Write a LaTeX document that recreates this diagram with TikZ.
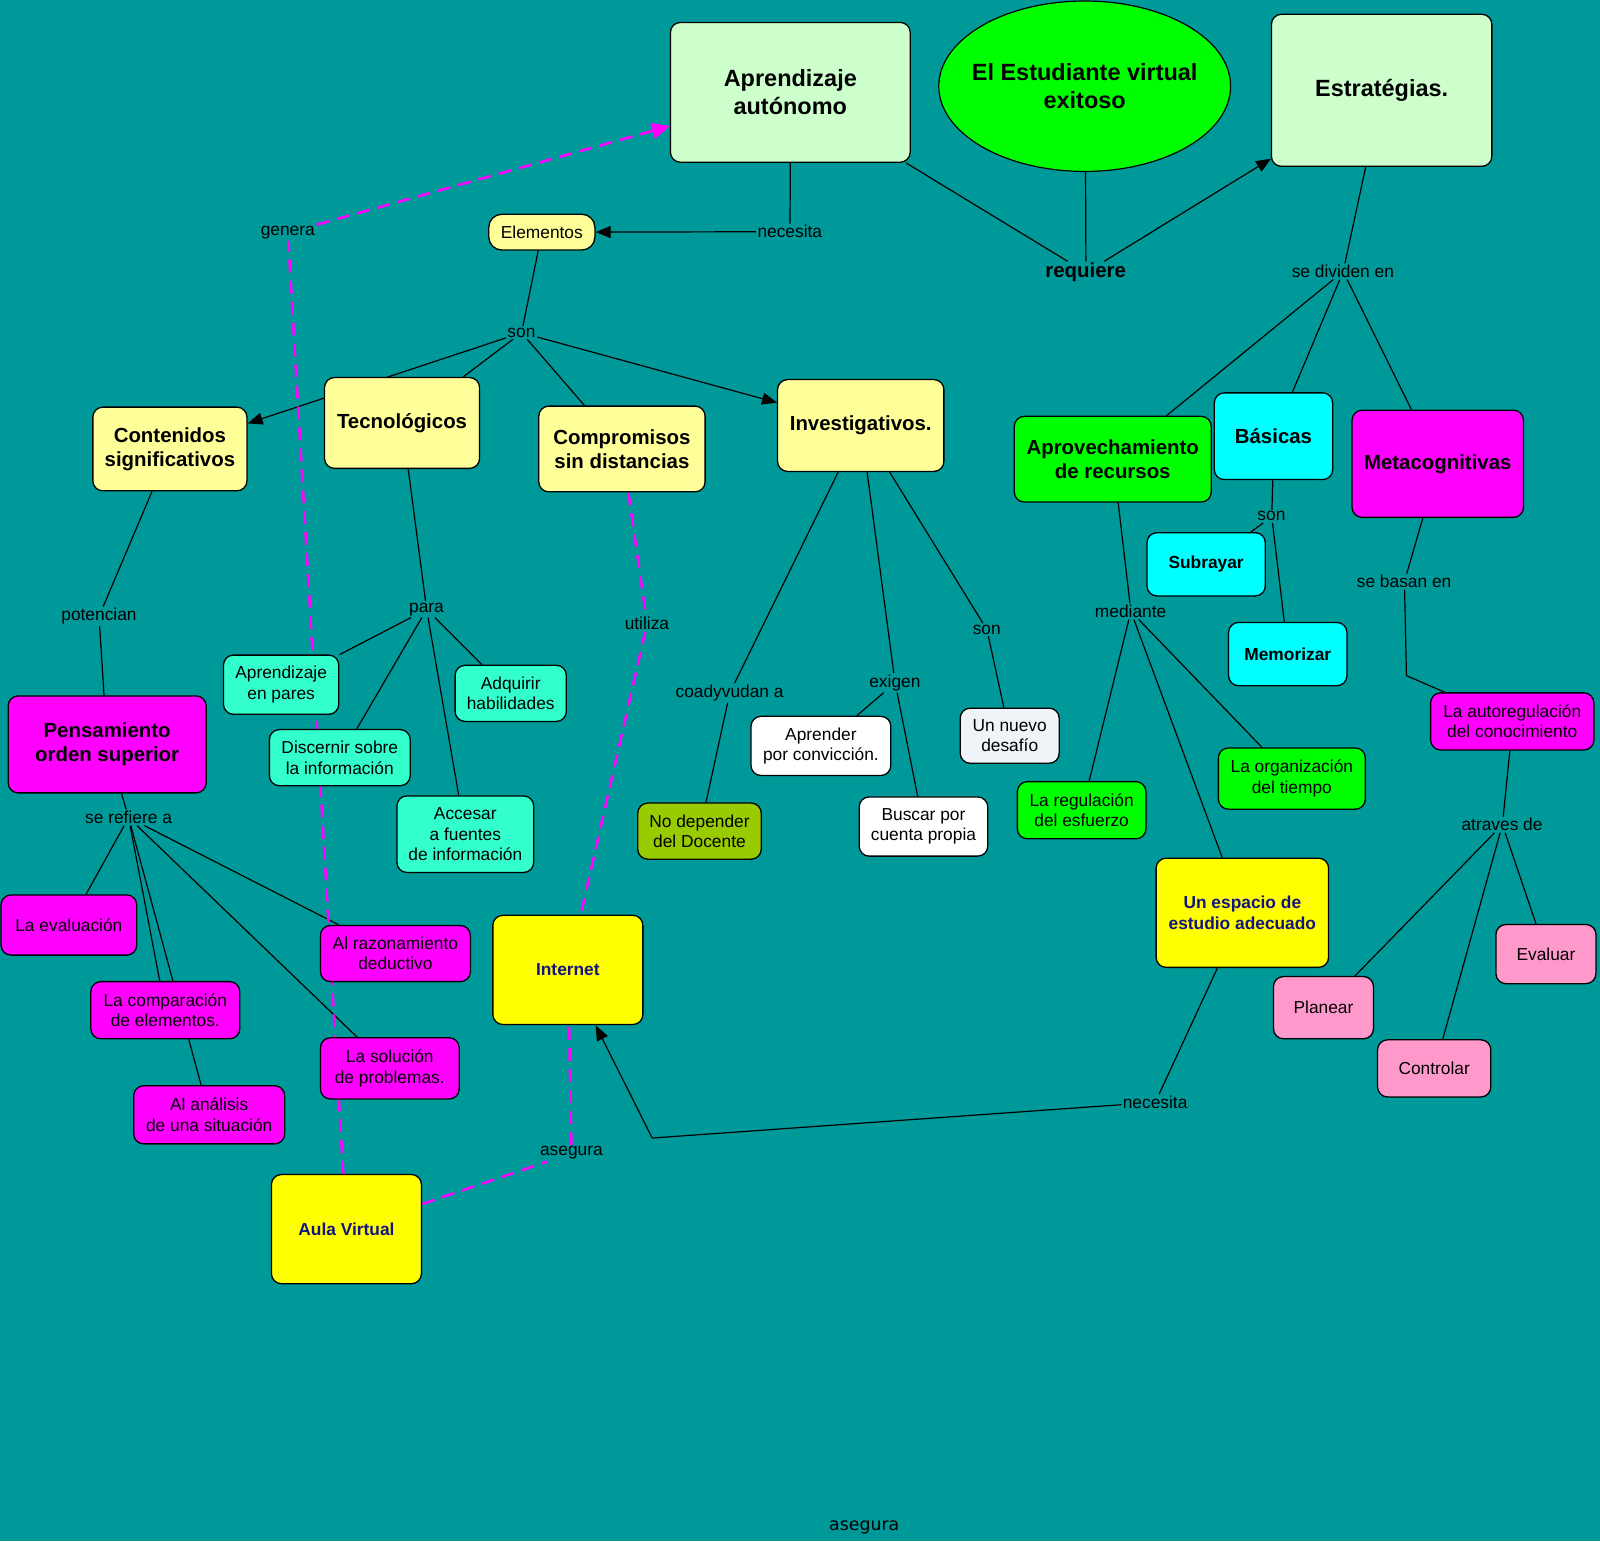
\documentclass[tikz,border=0pt]{standalone}
\usepackage{fontspec}
\setmainfont{Liberation Sans}
\newfontfamily\dejavu{DejaVu Sans}
\usetikzlibrary{shapes.geometric,arrows.meta,calc}
\pgfdeclarelayer{bg}
\pgfdeclarelayer{edges}
\pgfsetlayers{bg,edges,main}
\definecolor{bgteal}{HTML}{009999}
\definecolor{paleg}{HTML}{CCFFCC}
\definecolor{brightg}{HTML}{00FF00}
\definecolor{paley}{HTML}{FFFF99}
\definecolor{cyanc}{HTML}{00FFFF}
\definecolor{magc}{HTML}{FF00FF}
\definecolor{aquac}{HTML}{33FFCC}
\definecolor{yellc}{HTML}{FFFF00}
\definecolor{olivec}{HTML}{99CC00}
\definecolor{palegray}{HTML}{EEF4F8}
\definecolor{pinkc}{HTML}{FF99CC}
\definecolor{navyc}{HTML}{14147F}
\tikzset{
 bx/.style={draw=black, line width=1.3pt, rounded corners=10pt, align=center, inner sep=1pt, text=black},
 tt/.style={font=\fontsize{23}{27}\selectfont\bfseries},
 bb/.style={font=\fontsize{20}{23.5}\selectfont\bfseries},
 sb/.style={font=\fontsize{17}{20}\selectfont\bfseries},
 rg/.style={font=\fontsize{17}{20}\selectfont},
 lbl/.style={font=\fontsize{17}{20}\selectfont, inner sep=1.5pt, text=black},
 ln/.style={draw=black, line width=1.2pt},
 arr/.style={ln, -{Triangle[length=15pt,width=12pt]}},
 dsh/.style={draw=magc, line width=2.6pt, dash pattern=on 13pt off 8pt},
 dsharr/.style={dsh, -{Triangle[length=18pt,width=16pt]}},
}
\begin{document}
\begin{tikzpicture}[x=1pt,y=-1pt,scale=1.0204,every node/.append style={transform shape}]
\begin{pgfonlayer}{bg}
\fill[bgteal] (0,0) rectangle (1568,1510.2);
\end{pgfonlayer}
\path[use as bounding box] (0,0) rectangle (1568,1510.2);

% top nodes
\node[bx, fill=paleg, minimum width=235pt, minimum height=137pt, tt] (aprend) at (774.5,90.5) {Aprendizaje\\autónomo};
\node[draw=black, line width=1.2pt, ellipse, fill=brightg, minimum width=286pt, minimum height=167pt, inner sep=0pt] (est) at (1063,84.5) {};
\node[align=center, tt, inner sep=0pt] (esttxt) at (1063,84.5) {El Estudiante virtual\\exitoso};
\node[bx, fill=paleg, minimum width=216pt, minimum height=149pt, tt] (estrat) at (1354,88.5) {Estratégias.};
\node[lbl, font=\fontsize{20}{23}\selectfont\bfseries] (requiere) at (1064,267) {requiere};
\node[lbl] (necesita) at (774,227) {necesita};
\node[lbl] (genera) at (282,228) {genera};
\node[bx, fill=paley, rounded corners=13pt, minimum width=104pt, minimum height=35pt, rg] (elem) at (531,227.5) {Elementos};
\node[lbl] (son) at (511,326) {son};
\node[lbl] (sediv) at (1316,266) {se dividen en};

% second row
\node[bx, fill=paley, minimum width=151pt, minimum height=82pt, bb] (cont) at (166.5,440) {Contenidos\\significativos};
\node[bx, fill=paley, minimum width=152pt, minimum height=89pt, bb] (tec) at (394,414.5) {Tecnológicos};
\node[bx, fill=paley, minimum width=163pt, minimum height=84pt, bb] (comp) at (609.5,440) {Compromisos\\sin distancias};
\node[bx, fill=paley, minimum width=163pt, minimum height=90pt, bb] (inv) at (843.5,417) {Investigativos.};
\node[bx, fill=brightg, minimum width=193pt, minimum height=84pt, bb] (aprov) at (1090.5,450) {Aprovechamiento\\de recursos};
\node[bx, fill=cyanc, minimum width=116pt, minimum height=85pt, bb] (bas) at (1248,427.5) {Básicas};
\node[bx, fill=magc, minimum width=168pt, minimum height=105pt, bb] (meta) at (1409,454.5) {Metacognitivas};

% basicas
\node[lbl] (sonb) at (1246,506) {son};
\node[bx, fill=cyanc, minimum width=116pt, minimum height=62pt, sb] (subr) at (1182,553) {Subrayar};
\node[bx, fill=cyanc, minimum width=116pt, minimum height=62pt, sb] (memo) at (1262,641) {Memorizar};

% metacognitivas
\node[lbl] (sebasan) at (1376,570) {se basan en};
\coordinate (bend1) at (1378,662);
\node[bx, fill=magc, minimum width=160pt, minimum height=56pt, rg] (autor) at (1482,707) {La autoregulación\\del conocimiento};
\node[lbl] (atraves) at (1472,808) {atraves de};
\node[bx, fill=pinkc, minimum width=98pt, minimum height=58pt, rg] (evalr) at (1515,935) {Evaluar};
\node[bx, fill=pinkc, minimum width=98pt, minimum height=61pt, rg] (plan) at (1297,987.5) {Planear};
\node[bx, fill=pinkc, minimum width=111pt, minimum height=56pt, rg] (ctrl) at (1405.5,1047) {Controlar};

% aprovechamiento
\node[lbl] (mediante) at (1108,599) {mediante};
\node[bx, fill=brightg, minimum width=126pt, minimum height=56pt, rg] (regul) at (1060,794) {La regulación\\del esfuerzo};
\node[bx, fill=brightg, minimum width=144pt, minimum height=60pt, rg] (organ) at (1266,763) {La organización\\del tiempo};
\node[bx, fill=yellc, minimum width=169pt, minimum height=107pt, sb, text=navyc] (espacio) at (1217.5,894.5) {Un espacio de\\estudio adecuado};
\node[lbl] (necesita2) at (1132,1080) {necesita};
\coordinate (bend2) at (639,1115);

% internet / aula
\node[bx, fill=yellc, minimum width=147pt, minimum height=107pt, sb, text=navyc] (internet) at (556.5,950.5) {Internet};
\node[bx, fill=yellc, minimum width=147pt, minimum height=107pt, sb, text=navyc] (aula) at (339.5,1204.5) {Aula Virtual};
\node[lbl] (asegura) at (560,1130) {asegura};
\node[lbl] (utiliza) at (634,611) {utiliza};

% investigativos
\node[lbl] (coad) at (715,679) {coadyvudan a};
\node[lbl] (exigen) at (877,669) {exigen};
\node[lbl] (soni) at (967,617) {son};
\node[bx, fill=olivec, minimum width=121pt, minimum height=55pt, rg] (nodep) at (685.5,814.5) {No depender\\del Docente};
\node[bx, fill=white, minimum width=137pt, minimum height=58pt, rg] (aprconv) at (804.5,731) {Aprender\\por convicción.};
\node[bx, fill=white, minimum width=126pt, minimum height=58pt, rg] (buscar) at (905,810) {Buscar por\\cuenta propia};
\node[bx, fill=palegray, minimum width=97pt, minimum height=54pt, rg] (nuevo) at (989.5,721) {Un nuevo\\desafío};

% tecnologicos
\node[lbl] (para) at (418,597) {para};
\node[bx, fill=aquac, minimum width=113pt, minimum height=58pt, rg] (pares) at (275.5,671) {Aprendizaje\\en pares};
\node[bx, fill=aquac, minimum width=109pt, minimum height=55pt, rg] (adq) at (500.5,679.5) {Adquirir\\habilidades};
\node[bx, fill=aquac, minimum width=138pt, minimum height=55pt, rg] (disc) at (333,742.5) {Discernir sobre\\la información};
\node[bx, fill=aquac, minimum width=134pt, minimum height=75pt, rg] (acc) at (456,817.5) {Accesar\\a fuentes\\de información};

% contenidos
\node[lbl] (potencian) at (97,604) {potencian};
\node[bx, fill=magc, minimum width=194pt, minimum height=95pt, bb] (pens) at (105,729.5) {Pensamiento\\orden superior};
\node[lbl] (serefiere) at (126,801) {se refiere a};
\node[bx, fill=magc, minimum width=133pt, minimum height=59pt, rg] (evalu) at (67.5,906.5) {La evaluación};
\node[bx, fill=magc, minimum width=146pt, minimum height=56pt, rg] (compar) at (162,990) {La comparación\\de elementos.};
\node[bx, fill=magc, minimum width=148pt, minimum height=57pt, rg] (anal) at (205,1092.5) {Al análisis\\de una situación};
\node[bx, fill=magc, minimum width=147pt, minimum height=55pt, rg] (razon) at (387.5,934.5) {Al razonamiento\\deductivo};
\node[bx, fill=magc, minimum width=136pt, minimum height=60pt, rg] (soluc) at (382,1047) {La solución\\de problemas.};

% stray label
\node[font=\dejavu\fontsize{17}{20}\selectfont, inner sep=1pt] (asegura2) at (847,1497) {asegura};

\begin{pgfonlayer}{edges}
\draw[ln] (aprend) -- (necesita);
\draw[arr] (necesita) -- (elem);
\draw[ln] (aprend) -- (requiere);
\draw[ln] (est) -- (requiere);
\draw[arr] (requiere) -- (estrat);
\draw[ln] (estrat) -- (sediv);
\draw[ln] (sediv) -- (aprov);
\draw[ln] (sediv) -- (bas);
\draw[ln] (sediv) -- (meta);
\draw[ln] (elem) -- (son);
\draw[arr] (son) -- (cont);
\draw[ln] (son) -- (tec);
\draw[ln] (son) -- (comp);
\draw[arr] (son) -- (inv);
\draw[ln] (cont) -- (potencian);
\draw[ln] (potencian) -- (pens);
\draw[ln] (tec) -- (para);
\draw[ln] (para) -- (pares);
\draw[ln] (para) -- (disc);
\draw[ln] (para) -- (acc);
\draw[ln] (para) -- (adq);
\draw[ln] (inv) -- (coad);
\draw[ln] (coad) -- (nodep);
\draw[ln] (inv) -- (exigen);
\draw[ln] (exigen) -- (buscar);
\draw[ln] (exigen) -- (aprconv);
\draw[ln] (inv) -- (soni);
\draw[ln] (soni) -- (nuevo);
\draw[ln] (aprov) -- (mediante);
\draw[ln] (mediante) -- (regul);
\draw[ln] (mediante) -- (espacio);
\draw[ln] (mediante) -- (organ);
\draw[ln] (bas) -- (sonb);
\draw[ln] (sonb) -- (subr);
\draw[ln] (sonb) -- (memo);
\draw[ln] (meta) -- (sebasan);
\draw[ln] (sebasan) -- (bend1) -- (autor);
\draw[ln] (autor) -- (atraves);
\draw[ln] (atraves) -- (plan);
\draw[ln] (atraves) -- (ctrl);
\draw[ln] (atraves) -- (evalr);
\draw[ln] (espacio) -- (necesita2);
\draw[arr] (necesita2) -- (bend2) -- (internet);
\draw[ln] (pens) -- (serefiere);
\draw[ln] (serefiere) -- (evalu);
\draw[ln] (serefiere) -- (compar);
\draw[ln] (serefiere) -- (anal);
\draw[ln] (serefiere) -- (razon);
\draw[ln] (serefiere) -- (soluc);
% dashed
\draw[dsh] (comp) -- (utiliza);
\draw[dsh] (utiliza) -- (internet);
\draw[dsh] (aula) -- (genera);
\draw[dsharr] (genera) -- (aprend);
\draw[dsh] (aula) -- (asegura);
\draw[dsh] (asegura) -- (internet);
\end{pgfonlayer}
\end{tikzpicture}
\end{document}
